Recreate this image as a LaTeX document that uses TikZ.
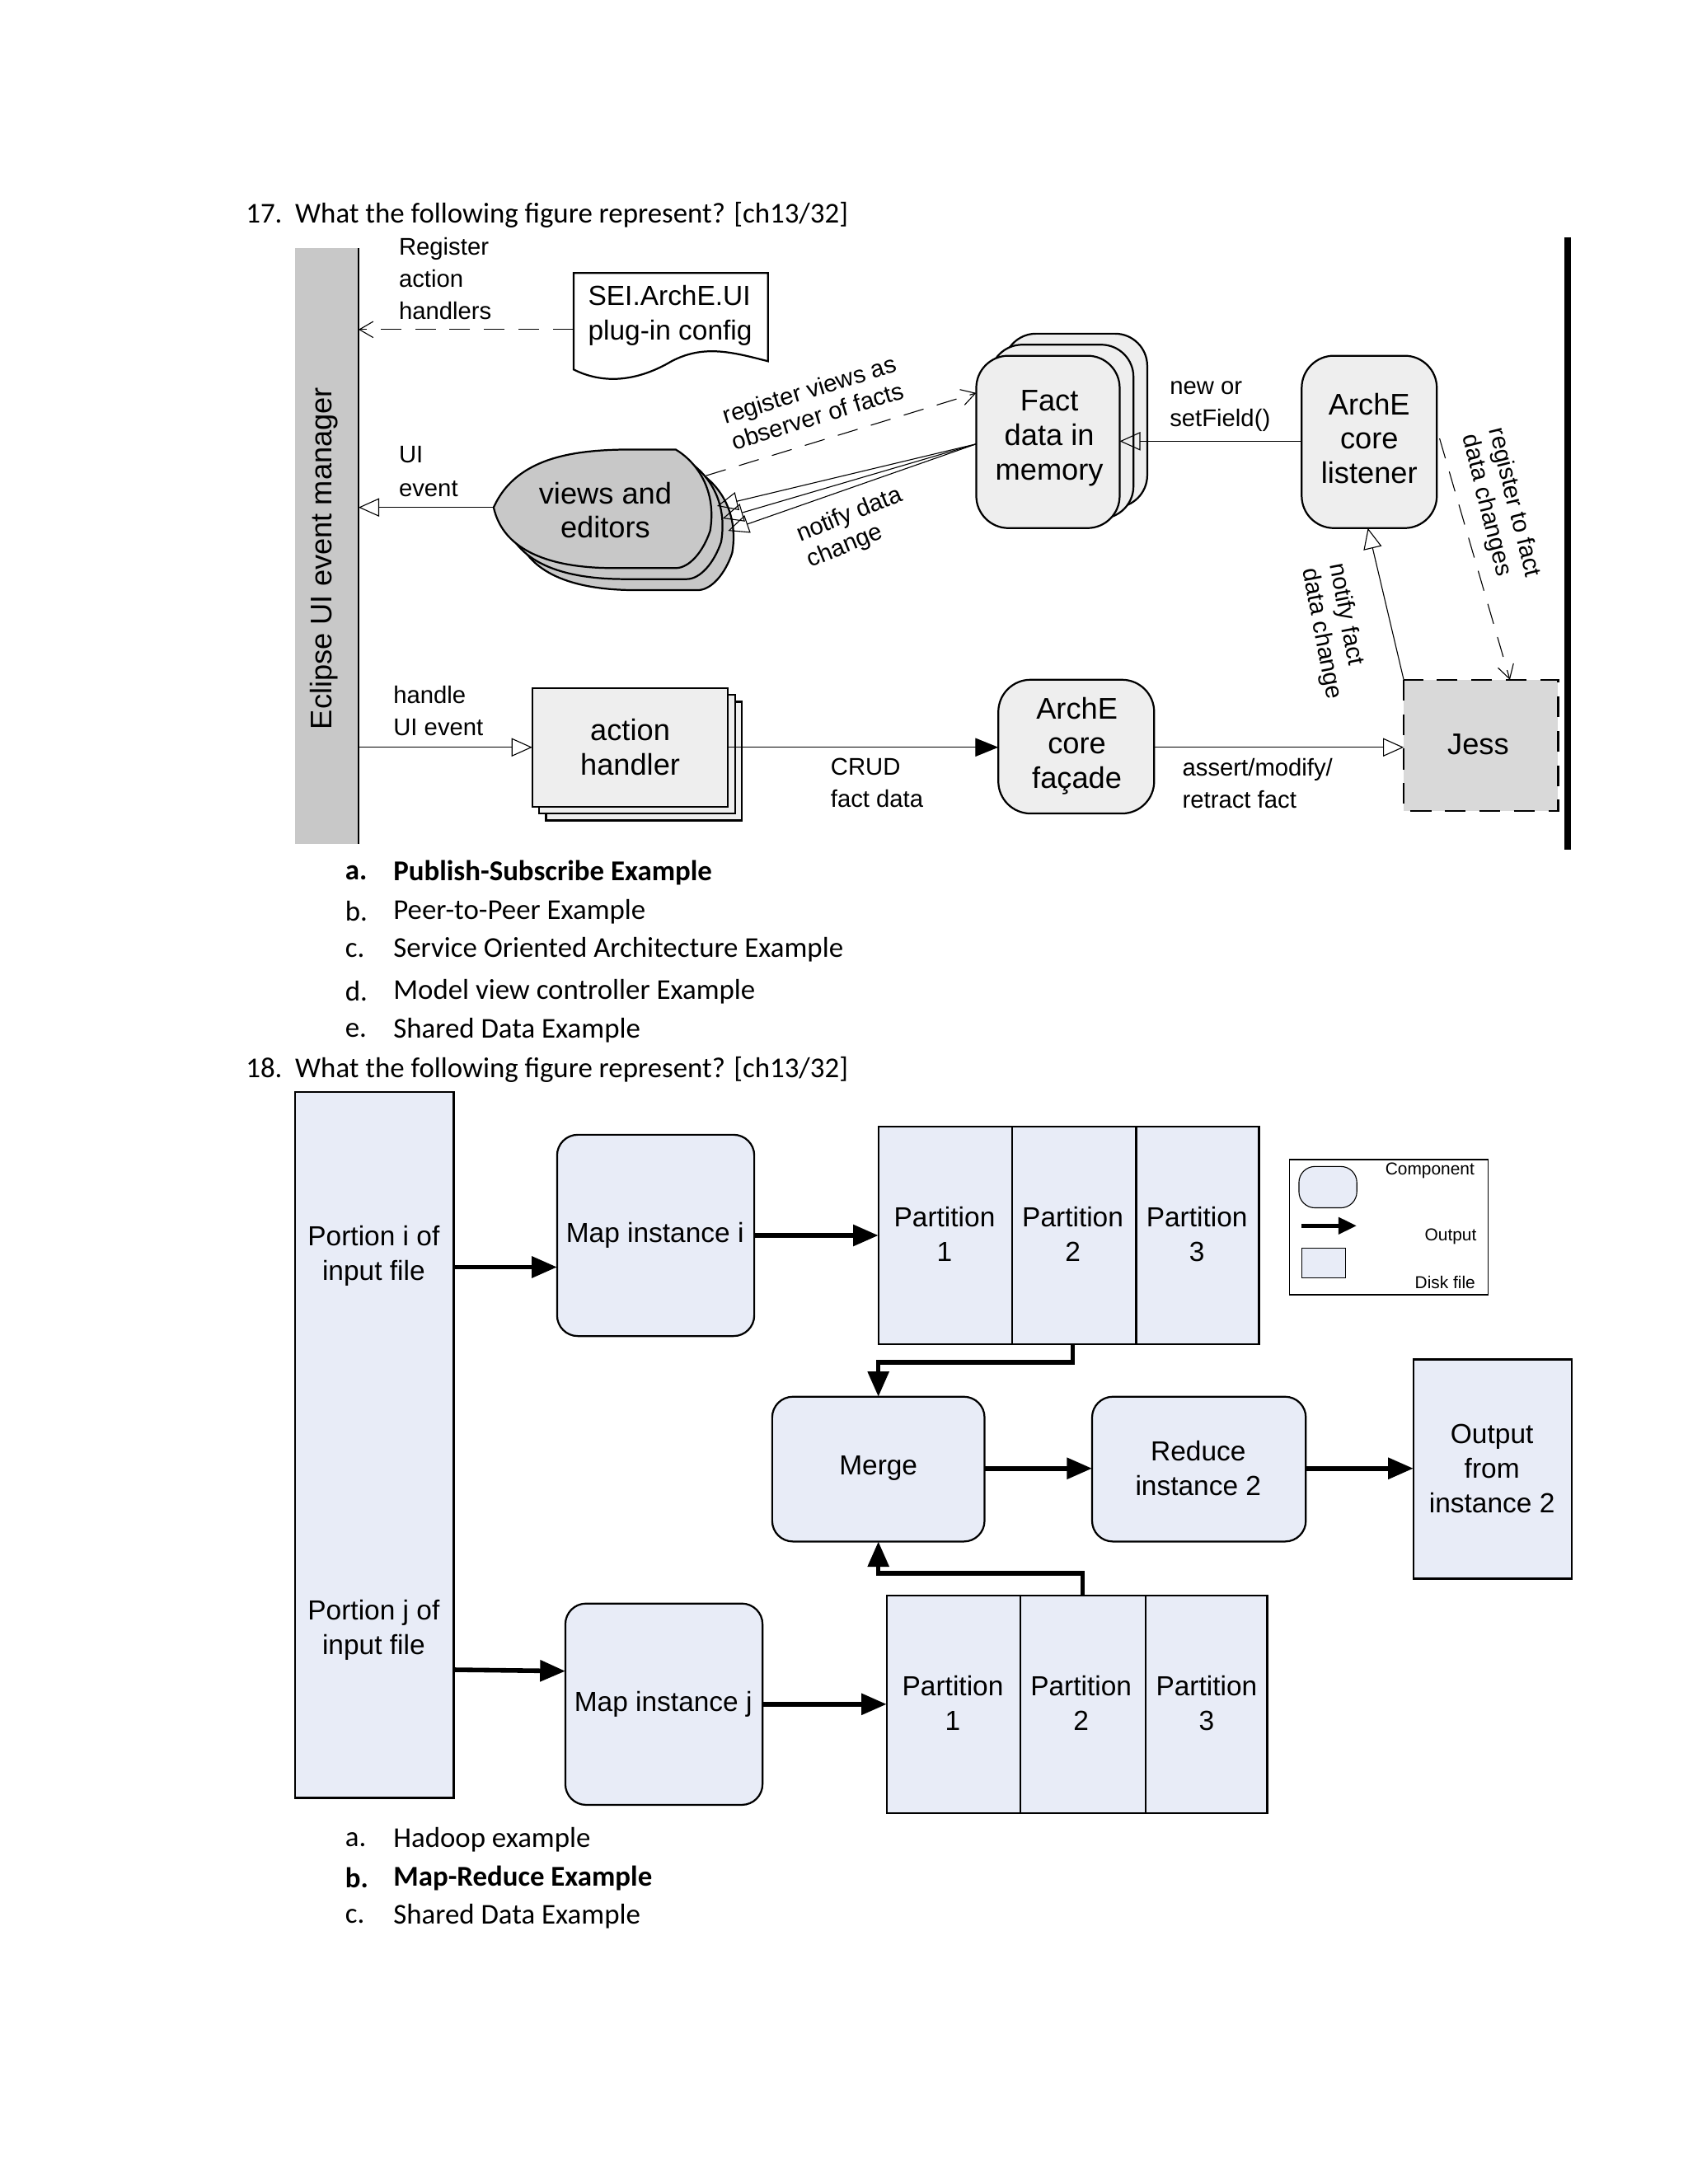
\documentclass[tikz,border=0pt]{standalone}
\usepackage{fontspec}
\setmainfont{Carlito}
\newfontfamily\arialf{Liberation Sans}
\usetikzlibrary{arrows.meta}
\definecolor{pb}{RGB}{232,236,247}
\definecolor{gb}{RGB}{200,200,200}
\definecolor{lg}{RGB}{238,238,238}
\begin{document}
\begin{tikzpicture}[x=0.6pt,y=-0.6pt,
  lbl/.style={font=\arialf\fontsize{10.5}{12}\selectfont,align=left,inner sep=0},
  big/.style={font=\arialf\fontsize{13}{15}\selectfont,align=center,inner sep=0},
  q/.style={font=\fontsize{12.5}{14}\selectfont,anchor=west,inner sep=0},
  open/.style={-{Triangle[open,length=9pt,width=8pt]}},
  vee/.style={-{Straight Barb[length=6pt,width=7pt]}},
  dsh/.style={dash pattern=on 9pt off 6pt},
  rr/.style={draw,rounded corners=14pt,fill=lg,thick},
  pbox/.style={draw,fill=pb,thick},
  prr/.style={draw,fill=pb,rounded corners=9pt,thick},
  bar/.style={line width=2pt,-{Triangle[length=11pt,width=9pt]}},
  ptxt/.style={font=\arialf\fontsize{12}{15}\selectfont,align=center,inner sep=0}]
\useasboundingbox (0,0) rectangle (1224,1584);
% ---------- Q17
\node[q] (q17) at (178,156) {17.\ \ What the following figure represent? [ch13/32]};
\fill[gb] (214,180) rectangle (260,612);
\draw (260,180) -- (260,612);
\coordinate (barA) at (260,239);
\coordinate (barB) at (260,368);
\coordinate (barC) at (260,542);
\node[big,rotate=90] (ecl) at (235,405) {Eclipse UI event manager};
\draw[line width=3pt] (1137,172) -- (1137,616);
\node[lbl,anchor=north west] (reg) at (289,172) {Register\\[2pt]action\\[2pt]handlers};
% doc
\draw[fill=white,thick] (416,198) -- (557,198) -- (557,262) .. controls (530,255) and (510,250) .. (487,262) .. controls (465,275) and (440,280) .. (416,268) -- cycle;
\node[big,font=\arialf\fontsize{12}{15}\selectfont,align=left] (doc) at (486,229) {SEI.ArchE.UI\\plug-in config};
\coordinate (docL) at (416,239);
\draw[dsh,vee] (docL) -- (barA);
% views and editors
\foreach \d/\f in {16/gb,8/gb,0/gb}{
\draw[thick,fill=\f,shift={(\d,\d)}] (358,368) .. controls (375,330) and (420,326) .. (460,326) -- (490,326) .. controls (505,335) and (520,355) .. (515,385) .. controls (510,400) and (500,412) .. (490,412) -- (445,412) .. controls (400,412) and (365,400) .. (358,368) -- cycle;}
\node[big] (views) at (439,370) {views and\\editors};
\coordinate (viewsL) at (358,368);
\draw[open] (viewsL) -- (barB);
\node[lbl,anchor=north west] (uie) at (289,323) {UI\\[3pt]event};
% Fact data
\draw[rr] (728,242) rectangle (832,368);
\draw[rr] (718,250) rectangle (822,376);
\draw[rr] (708,258) rectangle (812,383);
\node[big] (fact) at (761,318) {Fact\\data in\\memory};
% listener
\draw[rr] (944,258) rectangle (1042,383);
\node[big] (lis) at (993,318) {ArchE\\core\\listener};
\draw[open] (944,320) -- (812,320);
\node[lbl,anchor=north west] (new) at (848,276) {new or\\[2pt]setField()};
% register views dashed
\draw[dsh,vee] (512,345) -- (708,285);
\node[lbl,rotate=17,align=center] (rv) at (590,292) {register views as\\observer of facts};
% notify data change
\draw[open] (708,322) -- (520,367);
\draw[open] (708,322) -- (524,376);
\draw[open] (708,322) -- (528,385);
\node[lbl,rotate=22,align=left] (nd) at (620,383) {notify data\\change};
% action handler
\draw[fill=lg,thick] (396,509) rectangle (538,595);
\draw[fill=lg,thick] (391,504) rectangle (533,590);
\draw[fill=lg,thick] (386,499) rectangle (528,585);
\node[big] (ah) at (457,542) {action\\handler};
\draw[open] (barC) -- (386,542);
\node[lbl,anchor=north west] (hu) at (285,497) {handle\\[2pt]UI event};
% facade
\draw[rr] (724,493) rectangle (837,590);
\node[big] (fac) at (781,541) {ArchE\\core\\façade};
\draw[-{Triangle[length=10pt,width=8pt]}] (528,542) -- (724,542);
\node[lbl,align=left] (crud) at (636,568) {CRUD\\[2pt]fact data};
% Jess
\draw[dsh,fill=gb!70,thick] (1018,493) rectangle (1130,588);
\node[big] (jess) at (1072,540) {Jess};
\draw[open] (837,542) -- (1018,542);
\node[lbl,align=left] (amr) at (912,568) {assert/modify/\\[2pt]retract fact};
\draw[open] (1018,493) -- (992,383);
\node[lbl,rotate=-79,align=left] (nf) at (968,458) {notify fact\\data change};
\draw[dsh,vee] (1044,318) -- (1095,493);
\node[lbl,rotate=-76,align=left] (rf) at (1088,367) {register to fact\\data changes};
% answers 17
\node[q] at (250,633) {\textbf{a.}}; \node[q] at (285,633) {\textbf{Publish-Subscribe Example}};
\node[q] at (250,661) {b.}; \node[q] at (285,661) {Peer-to-Peer Example};
\node[q] at (250,689) {c.}; \node[q] at (285,689) {Service Oriented Architecture Example};
\node[q] at (250,719) {d.}; \node[q] at (285,719) {Model view controller Example};
\node[q] at (250,747) {e.}; \node[q] at (285,747) {Shared Data Example};
% ---------- Q18
\node[q] (q18) at (178,776) {18.\ \ What the following figure represent? [ch13/32]};
\draw[pbox] (214,792) rectangle (329,1304);
\node[ptxt] (pi) at (271,911) {Portion i of\\input file};
\node[ptxt] (pj) at (271,1182) {Portion j of\\input file};
\draw[prr] (404,823) rectangle (547,969); \node[ptxt] (mi) at (475,896) {Map instance i};
\draw[prr] (410,1163) rectangle (553,1309); \node[ptxt] (mj) at (481,1236) {Map instance j};
\draw[bar] (329,919) -- (404,919);
\draw[bar] (329,1211) -- (410,1212);
\draw[bar] (547,896) -- (637,896);
\draw[bar] (553,1236) -- (643,1236);
\draw[pbox] (637,817) rectangle (734,975); \node[ptxt] at (685,895) {Partition\\1};
\draw[pbox] (734,817) rectangle (824,975); \node[ptxt] at (778,895) {Partition\\2};
\draw[pbox] (824,817) rectangle (913,975); \node[ptxt] at (868,895) {Partition\\3};
\draw[pbox] (643,1157) rectangle (740,1315); \node[ptxt] at (691,1235) {Partition\\1};
\draw[pbox] (740,1157) rectangle (831,1315); \node[ptxt] at (784,1235) {Partition\\2};
\draw[pbox] (831,1157) rectangle (919,1315); \node[ptxt] at (875,1235) {Partition\\3};
\draw[prr] (560,1013) rectangle (714,1118); \node[ptxt] (merge) at (637,1065) {Merge};
\draw[prr] (792,1013) rectangle (947,1118); \node[ptxt] (red) at (869,1065) {Reduce\\instance 2};
\draw[pbox] (1025,986) rectangle (1140,1145); \node[ptxt] (out) at (1082,1065) {Output\\from\\instance 2};
\draw[bar] (778,975) -- (778,988) -- (637,988) -- (637,1013);
\draw[bar] (785,1157) -- (785,1141) -- (637,1141) -- (637,1118);
\draw[bar] (714,1065) -- (792,1065);
\draw[bar] (947,1065) -- (1025,1065);
% legend
\draw (935,841) rectangle (1079,939);
\draw[fill=pb,rounded corners=7pt] (942,846) rectangle (984,876);
\draw[line width=2pt,-{Triangle[length=8pt,width=7pt]}] (944,889) -- (984,889);
\draw[fill=pb] (944,905) rectangle (976,927);
\node[font=\arialf\fontsize{7.5}{9}\selectfont,inner sep=0] at (1037,849) {Component};
\node[font=\arialf\fontsize{7.5}{9}\selectfont,inner sep=0] at (1052,897) {Output};
\node[font=\arialf\fontsize{7.5}{9}\selectfont,inner sep=0] at (1048,930) {Disk file};
\node[q] at (250,1334) {a.}; \node[q] at (285,1334) {Hadoop example};
\node[q] at (250,1362) {\textbf{b.}}; \node[q] at (285,1362) {\textbf{Map-Reduce Example}};
\node[q] at (250,1390) {c.}; \node[q] at (285,1390) {Shared Data Example};
\end{tikzpicture}
\end{document}
